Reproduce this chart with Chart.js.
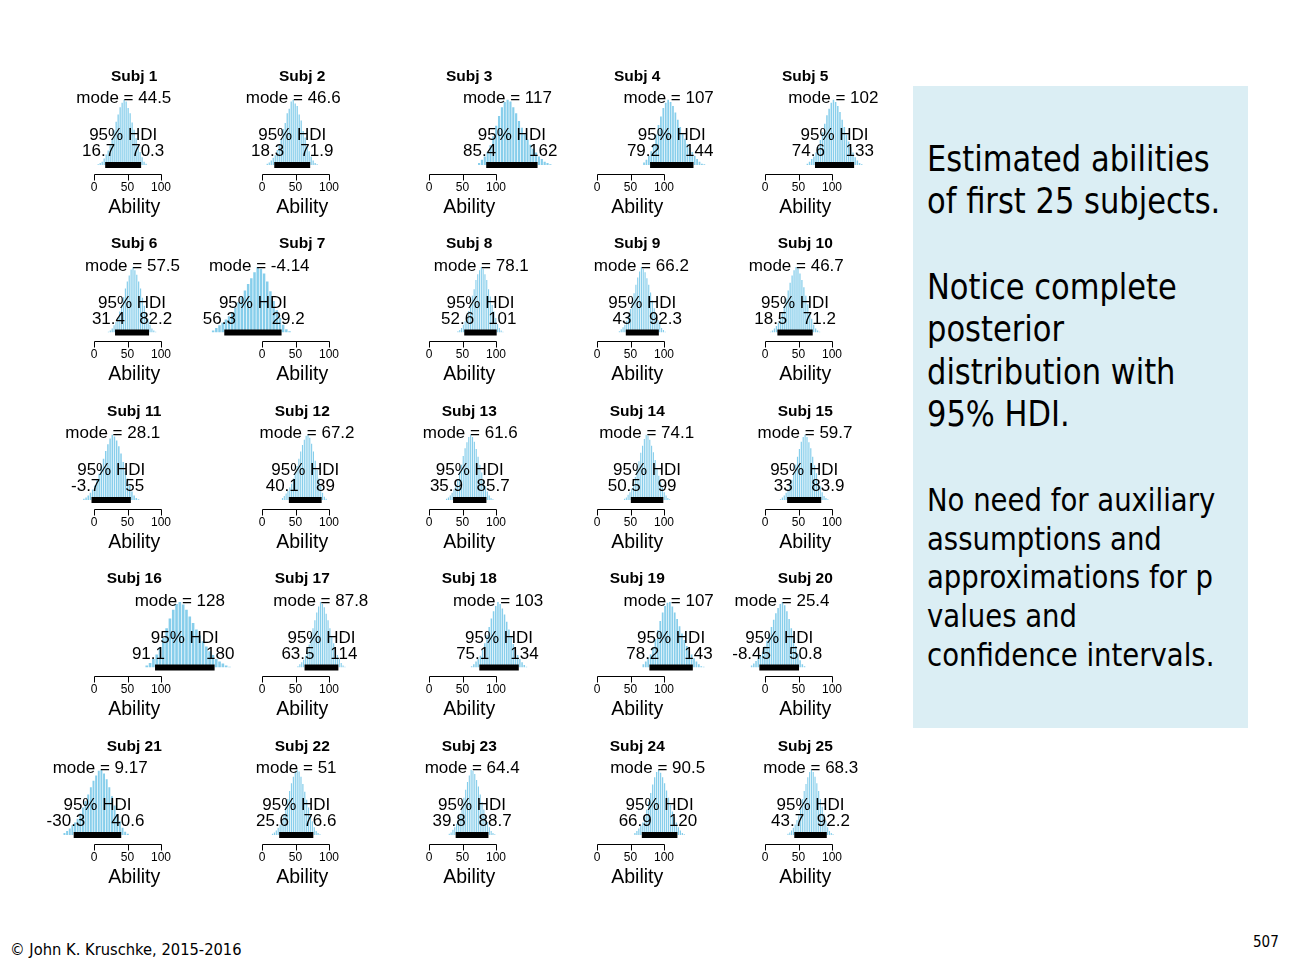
<!DOCTYPE html>
<html>
<head>
<meta charset="utf-8">
<script src="https://cdn.jsdelivr.net/npm/chart.js@4.4.1/dist/chart.umd.min.js"></script>
<style>
  html, body { margin: 0; padding: 0; background: #fff; }
  body { width: 1290px; height: 968px; position: relative; overflow: hidden; }
  canvas.panel { position: absolute; }
  #note { position: absolute; left: 913px; top: 86px; width: 335px; height: 642px; background: #dbeef4; }
  .para { position: absolute; left: 927px; white-space: nowrap; font-family: "DejaVu Sans", sans-serif;
          color: #000; transform: scaleX(0.86); transform-origin: 0 0; }
  #p1, #p2 { font-size: 35.5px; line-height: 42.3px; }
  #p3 { font-size: 32px; line-height: 38.7px; }
  #p1 { top: 138px; } #p2 { top: 266px; } #p3 { top: 481px; }
  #foot { position: absolute; left: 10px; top: 941px; font: 15px "DejaVu Sans", sans-serif; color: #000;
          transform: scaleX(0.98); transform-origin: 0 0; white-space: nowrap; }
  #page { position: absolute; left: 1253px; top: 933px; font: 15px "DejaVu Sans", sans-serif; color: #000;
          transform: scaleX(0.9); transform-origin: 0 0; }
</style>
</head>
<body>
<div id="note"></div>
<div class="para" id="p1">Estimated abilities<br>of first 25 subjects.</div>
<div class="para" id="p2">Notice complete<br>posterior<br>distribution with<br>95% HDI.</div>
<div class="para" id="p3">No need for auxiliary<br>assumptions and<br>approximations for p<br>values and<br>confidence intervals.</div>
<div id="foot">© John K. Kruschke, 2015-2016</div>
<div id="page">507</div>

<script>
// posterior summaries per subject
const modes   = [44.5, 46.6, 117, 107, 102, 57.5, -4.14, 78.1, 66.2, 46.7, 28.1, 67.2, 61.6, 74.1, 59.7,
                 128, 87.8, 103, 107, 25.4, 9.17, 51, 64.4, 90.5, 68.3];
const hdiLow  = [16.7, 18.3, 85.4, 79.2, 74.6, 31.4, -56.3, 52.6, 43, 18.5, -3.7, 40.1, 35.9, 50.5, 33,
                 91.1, 63.5, 75.1, 78.2, -8.45, -30.3, 25.6, 39.8, 66.9, 43.7];
const hdiHigh = [70.3, 71.9, 162, 144, 133, 82.2, 29.2, 101, 92.3, 71.2, 55, 89, 85.7, 99, 83.9,
                 180, 114, 134, 143, 50.8, 40.6, 76.6, 88.7, 120, 92.2];

// left edge of first histogram bin
const histStart = [4.79, 6.39, 72.63, 68.4, 61.62, 20.11, -75.3, 41.84, 32.04, 6.79, -16.74, 29.23, 24.83,
                   39.72, 21.69, 76.28, 52.28, 62.01, 67.4, -21.62, -46.06, 14.27, 28.93, 55.1, 32.92];

// relative bin heights (peak = 1)
const histHeights = [
  [.01,.03,.05,.10, .16,.22,.30,.41,.53,.66,.77,.88,.95,1,.97,.87,.79,.65,.54,.41,.30,.20, .12,.05,.02],
  [.02,.04,.07,.11, .15,.23,.31,.40,.55,.64,.79,.86,.97,1,.94,.90,.77,.68,.52,.42,.29,.21, .13,.07,.03,.01],
  [.03,.08,.13, .20,.30,.44,.60,.75,.88,.96,1,.97,.88,.79,.67,.57,.47,.39,.31,.25,.19, .13,.09,.05,.03,.01],
  [.04,.08,.14, .21,.32,.46,.61,.74,.87,.95,1,.96,.90,.80,.69,.58,.49,.40,.32,.26,.20, .14,.09,.05,.02,.01],
  [.02,.05,.09,.13, .19,.27,.38,.50,.63,.76,.86,.95,1,.96,.90,.81,.69,.58,.46,.36,.27,.19, .12,.07,.03,.01],
  [.01,.03,.06,.11, .16,.23,.32,.42,.54,.67,.78,.87,.96,1,.95,.88,.78,.67,.53,.41,.31,.21, .12,.06,.03,.01],
  [.03,.07,.11,.15, .20,.25,.31,.38,.46,.55,.64,.74,.83,.92,1,.97,.90,.78,.63,.48,.34,.22, .12,.05,.02],
  [.02,.04,.07,.12, .17,.24,.33,.43,.56,.66,.80,.89,.95,1,.97,.89,.80,.66,.55,.42,.32,.22, .13,.07,.03,.01],
  [.02,.05,.08,.12, .18,.26,.36,.47,.60,.73,.84,.93,1,.97,.92,.83,.73,.61,.49,.37,.27,.19, .13,.07,.04,.01],
  [.01,.03,.06,.10, .15,.22,.30,.40,.52,.64,.76,.87,.95,1,.98,.90,.80,.69,.56,.43,.31,.21, .12,.06,.03,.01],
  [.02,.04,.07,.11, .16,.22,.31,.40,.51,.63,.75,.85,.94,1,.97,.91,.82,.71,.58,.45,.33,.22, .13,.07,.03,.01],
  [.03,.06,.10,.14, .19,.25,.33,.42,.52,.63,.74,.84,.92,.98,1,.95,.86,.74,.60,.46,.33,.21, .11,.05,.02],
  [.02,.04,.07,.11, .16,.23,.32,.43,.54,.67,.79,.88,.96,1,.96,.89,.78,.66,.54,.42,.31,.21, .13,.07,.03,.01],
  [.02,.04,.08,.12, .17,.25,.35,.46,.59,.72,.83,.93,1,.98,.92,.83,.73,.61,.49,.37,.27,.19, .12,.07,.03,.01],
  [.01,.04,.07,.11, .16,.23,.31,.42,.54,.66,.78,.89,.96,1,.96,.88,.79,.66,.53,.41,.30,.21, .12,.06,.03,.01],
  [.03,.07,.13, .20,.31,.45,.60,.75,.88,.97,1,.96,.88,.78,.68,.58,.49,.40,.32,.25,.19, .13,.09,.06,.03,.01],
  [.02,.05,.08,.12, .18,.26,.35,.47,.60,.72,.84,.93,1,.97,.92,.82,.72,.60,.48,.37,.27,.19, .13,.07,.03,.01],
  [.02,.05,.09,.13, .18,.27,.37,.49,.62,.75,.86,.94,1,.97,.90,.81,.70,.58,.47,.36,.27,.19, .13,.08,.04,.01],
  [.05,.09,.14, .20,.30,.43,.57,.71,.84,.94,.99,1,.93,.84,.74,.63,.52,.42,.33,.26,.20, .14,.09,.05,.02,.01],
  [.03,.06,.10,.14, .18,.24,.32,.41,.51,.62,.73,.83,.91,.97,1,.95,.86,.74,.60,.46,.33,.21, .11,.05,.02],
  [.03,.06,.10,.15, .19,.25,.33,.42,.52,.62,.73,.83,.91,.98,1,.94,.85,.73,.59,.45,.32,.21, .11,.05,.02],
  [.02,.04,.07,.11, .16,.23,.32,.43,.55,.67,.79,.89,.96,1,.97,.89,.78,.66,.54,.42,.31,.21, .12,.06,.03,.01],
  [.02,.04,.08,.12, .17,.24,.33,.44,.57,.69,.81,.91,1,.98,.93,.84,.74,.62,.50,.39,.29,.20, .12,.06,.03,.01],
  [.03,.06,.10,.14, .19,.28,.39,.51,.64,.77,.88,.96,1,.95,.88,.79,.68,.57,.46,.36,.27,.19, .12,.07,.03,.01],
  [.02,.04,.07,.11, .16,.23,.32,.43,.55,.67,.78,.88,.96,1,.96,.89,.79,.67,.55,.43,.32,.22, .12,.06,.03,.01]
];

const axisTicks = [0, 50, 100];
const axisTitle = 'Ability';
const credMass = 95;
const plotCenter = 60;     // centre of each panel's plotting range (title / axis title)

// layout
const PX = 0.67;           // pixels per ability unit
const colZero = [94, 262, 429, 597, 765];
const rowBase = [165, 332.5, 500, 667.5, 835];
const CW = 208, CH = 172, LEFT_OF_ZERO = 60;
const FONT = '"Liberation Sans", Arial, sans-serif';

const panelText = {
  id: 'panelText',
  afterDatasetsDraw(chart, args, opts) {
    const { ctx, scales: { x, y } } = chart;
    const i = opts.index;
    const base = y.getPixelForValue(0);
    ctx.save();
    ctx.fillStyle = '#000';
    ctx.strokeStyle = '#000';
    ctx.textBaseline = 'middle';
    ctx.textAlign = 'center';

    ctx.font = 'bold 15.5px ' + FONT;
    ctx.fillText('Subj ' + (i + 1), x.getPixelForValue(plotCenter), base - 88.5);

    ctx.font = '17px ' + FONT;
    ctx.fillText('mode = ' + modes[i], x.getPixelForValue(modes[i]), base - 66.5);

    // HDI bar
    const xl = x.getPixelForValue(hdiLow[i]);
    const xh = x.getPixelForValue(hdiHigh[i]);
    ctx.fillRect(xl, base - 3, xh - xl, 6);
    ctx.fillText(credMass + '% HDI', (xl + xh) / 2, base - 29.5);

    ctx.textAlign = 'left';
    const lo = String(hdiLow[i]), hi = String(hdiHigh[i]);
    ctx.fillText(lo, xl - 0.7 * ctx.measureText(lo).width, base - 13.5);
    ctx.fillText(hi, xh - 0.3 * ctx.measureText(hi).width, base - 13.5);

    // axis 0..100 with ticks
    const ay = Math.round(base + 8.5) + 0.5;
    ctx.lineWidth = 1;
    ctx.beginPath();
    ctx.moveTo(Math.round(x.getPixelForValue(axisTicks[0])) + 0.5, ay);
    ctx.lineTo(Math.round(x.getPixelForValue(axisTicks[axisTicks.length - 1])) + 0.5, ay);
    axisTicks.forEach(t => {
      const tx = Math.round(x.getPixelForValue(t)) + 0.5;
      ctx.moveTo(tx, ay);
      ctx.lineTo(tx, ay + 6);
    });
    ctx.stroke();

    ctx.textAlign = 'center';
    ctx.font = '12px ' + FONT;
    axisTicks.forEach(t => ctx.fillText(String(t), x.getPixelForValue(t), base + 22.5));

    ctx.font = '19.5px ' + FONT;
    ctx.fillText(axisTitle, x.getPixelForValue(plotCenter), base + 42.5);
    ctx.restore();
  }
};

modes.forEach((m, i) => {
  const col = i % 5, row = Math.floor(i / 5);
  const B = rowBase[row];
  const top = Math.round(B - 105);
  const cv = document.createElement('canvas');
  cv.className = 'panel';
  cv.width = CW; cv.height = CH;
  cv.style.left = (colZero[col] - LEFT_OF_ZERO) + 'px';
  cv.style.top = top + 'px';
  cv.style.width = CW + 'px'; cv.style.height = CH + 'px';
  document.body.appendChild(cv);

  const bw = (hdiHigh[i] - hdiLow[i]) / 18;
  const pts = histHeights[i].map((h, k) => ({ x: histStart[i] + (k + 0.5) * bw, y: h }));
  const binPx = bw * PX;

  new Chart(cv, {
    type: 'bar',
    data: {
      datasets: [{
        data: pts,
        backgroundColor: '#87ceeb',
        borderWidth: 0,
        inflateAmount: 0,
        categoryPercentage: 1,
        barPercentage: Math.max(0.6, 1 - 0.7 / binPx)
      }]
    },
    options: {
      responsive: false,
      animation: false,
      events: [],
      devicePixelRatio: 1,
      layout: { padding: { left: 0, right: 0, top: (B - 65.5) - top, bottom: top + CH - B } },
      plugins: { legend: { display: false }, tooltip: { enabled: false }, panelText: { index: i } },
      scales: {
        x: { type: 'linear', display: false, offset: false,
             min: -LEFT_OF_ZERO / PX, max: (CW - LEFT_OF_ZERO) / PX },
        y: { display: false, min: 0, max: 1 }
      }
    },
    plugins: [panelText]
  });
});
</script>
</body>
</html>
